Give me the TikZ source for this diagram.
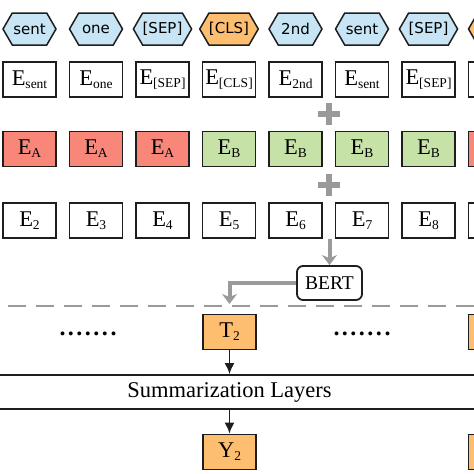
\documentclass[tikz,border=0pt]{standalone}
\usepackage{fontspec}
\setmainfont{Liberation Serif}
\newfontfamily\toksf{DejaVu Sans}
\usepackage{xcolor}
\usetikzlibrary{shapes.symbols, arrows.meta, positioning}

\definecolor{tokblue}{HTML}{C7E5F5}
\definecolor{clsorange}{HTML}{FDBF6F}
\definecolor{segred}{HTML}{F8877A}
\definecolor{seggreen}{HTML}{C6E2A6}
\definecolor{pipegray}{HTML}{9A9A9A}
\definecolor{linedark}{HTML}{1E1E1E}

\newcommand{\tokfont}{\toksf\fontsize{15}{18}\selectfont}
\newcommand{\embfont}{\fontsize{22.5}{26}\selectfont}
\newcommand{\sublbl}[2]{#1\raisebox{-3pt}{\fontsize{13.5}{14}\selectfont #2}}
\newcommand{\emb}[1]{\sublbl{E}{#1}}

\begin{document}
\begin{tikzpicture}[x=1pt,y=-1pt,
    tokhex/.style={signal,signal to=west and east,signal pointer angle=120,draw=linedark,line width=1.5pt,minimum width=53pt,minimum height=32pt,inner sep=0pt,font=\tokfont},
    embbox/.style={rectangle,draw=linedark,line width=1.8pt,fill=white,minimum width=53pt,minimum height=35pt,inner sep=0pt,font=\embfont},
    pipe/.style={draw=pipegray,line width=4pt,-{Stealth[length=10pt,width=15pt,inset=3pt]}},
    flow/.style={draw=linedark,line width=1.6pt,-{Latex[length=11pt,width=10pt]}},
    plussign/.style={draw=pipegray,line width=6.5pt}
]
    \useasboundingbox (0,0) rectangle (474,474);
    \clip (0,0) rectangle (474,474);

    % Token Input
    \foreach \lab/\col [count=\i from 0] in {sent/tokblue,one/tokblue,[SEP]/tokblue,[CLS]/clsorange,2nd/tokblue,sent/tokblue,[SEP]/tokblue} {
        \node[tokhex,fill=\col] (tok\i) at ({29.5+66.5*\i},29) {\lab};
    }
    \node[tokhex,fill=clsorange] (tok7) at (495,29) {};

    % Token Embeddings
    \foreach \sub [count=\i from 0] in {sent,one,[SEP],[CLS],2nd,sent,[SEP]} {
        \node[embbox] (emb\i) at ({29.5+66.5*\i},79.5) {\emb{\sub}};
    }
    \node[embbox] (emb7) at (495,79.5) {};

    % Segment Embeddings
    \foreach \col/\sub [count=\i from 0] in {segred/A,segred/A,segred/A,seggreen/B,seggreen/B,seggreen/B,seggreen/B} {
        \node[embbox,fill=\col] (seg\i) at ({29.5+66.5*\i},149) {\emb{\sub}};
    }
    \node[embbox,fill=segred] (seg7) at (495,149) {};

    % Position Embeddings
    \foreach \i [count=\n from 2] in {0,...,6} {
        \node[embbox] (pos\i) at ({29.5+66.5*\i},220.5) {\emb{\n}};
    }
    \node[embbox] (pos7) at (495,220.5) {};

    % Somme
    \draw[plussign] (329,103) -- (329,125) (318,114) -- (340,114);
    \draw[plussign] (329,174) -- (329,196) (318,185) -- (340,185);

    % BERT
    \node[rectangle,draw=linedark,line width=1.8pt,rounded corners=6pt,minimum width=65pt,minimum height=34pt,font=\fontsize{19.5}{22}\selectfont] (bert) at (329.5,283) {BERT};
    \draw[pipe] (pos4.south -| bert) -- (bert);

    % Linea tratteggiata
    \coordinate (cutL) at (8,306);
    \coordinate (cutR) at (474,306);
    \draw[pipegray,line width=2pt,dash pattern=on 18pt off 10pt] (cutL) -- (cutR);

    % Output BERT
    \node[embbox,fill=clsorange] (t2) at (229.5,332) {\sublbl{T}{2}};
    \node[embbox,fill=clsorange] (tnext) at (495,332) {};
    \node[font=\fontsize{24}{24}\selectfont\bfseries] (dotsL) at (88,334) {.\kern2.5pt.\kern2.5pt.\kern2.5pt.\kern2.5pt.\kern2.5pt.\kern2.5pt.};
    \node[font=\fontsize{24}{24}\selectfont\bfseries] (dotsR) at (362,334) {.\kern2.5pt.\kern2.5pt.\kern2.5pt.\kern2.5pt.\kern2.5pt.\kern2.5pt.};
    \draw[pipe,shorten >=2pt] (bert.west) -| (cutL -| t2);

    % Summarization Layers
    \node[rectangle,draw=linedark,line width=1.8pt,fill=white,minimum width=520pt,minimum height=34pt,font=\embfont] (sumlayer) at (229.5,392) {Summarization Layers};
    \node[embbox,fill=clsorange] (y2) at (229.5,452) {\sublbl{Y}{2}};
    \node[embbox,fill=clsorange] (ynext) at (495,452) {};
    \draw[flow] (t2) -- (sumlayer.north -| t2);
    \draw[flow] (sumlayer.south -| y2) -- (y2);
\end{tikzpicture}
\end{document}
